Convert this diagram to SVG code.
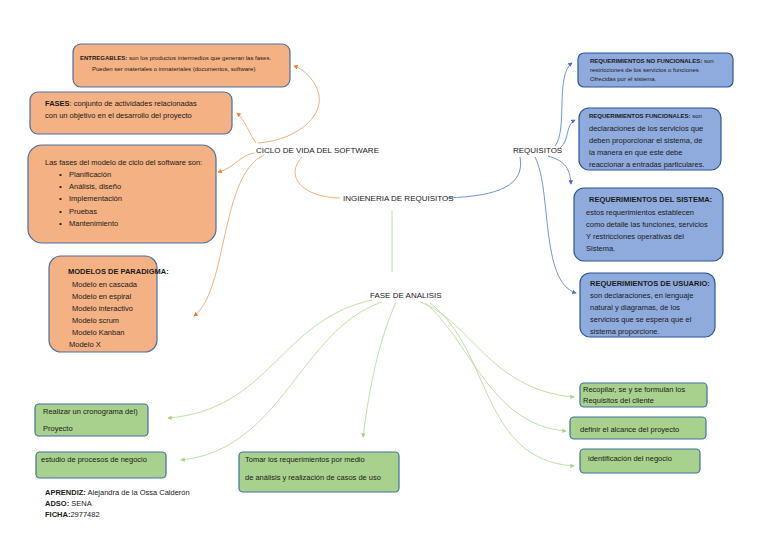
<svg xmlns="http://www.w3.org/2000/svg" width="768" height="543" viewBox="0 0 768 543">
<defs>
<style>
text{font-family:"Liberation Sans",Arial,sans-serif;fill:#1a1a1a;font-size:8px}
.o{fill:#F4B183;stroke:#4A6FA5;stroke-width:1.2}
.b{fill:#8FAADC;stroke:#2F5597;stroke-width:1.2}
.g{fill:#A9D18E;stroke:#41719C;stroke-width:1.2}
.s{font-size:6px}
.m{font-size:7.5px}
.lab{font-size:8px}
.co{fill:none;stroke:#F4A46C;stroke-width:0.9}
.cb{fill:none;stroke:#5B8BD6;stroke-width:0.9}
.cg{fill:none;stroke:#B8DC9C;stroke-width:0.9}
</style>
<marker id="ao" viewBox="0 0 6 6" refX="5" refY="3" markerWidth="5" markerHeight="5" orient="auto"><path d="M0,0L6,3L0,6z" fill="#ED7D31"/></marker>
<marker id="ab" viewBox="0 0 6 6" refX="5" refY="3" markerWidth="5" markerHeight="5" orient="auto"><path d="M0,0L6,3L0,6z" fill="#4472C4"/></marker>
<marker id="ag" viewBox="0 0 6 6" refX="5" refY="3" markerWidth="5" markerHeight="5" orient="auto"><path d="M0,0L6,3L0,6z" fill="#A9D18E"/></marker>
</defs>
<rect width="768" height="543" fill="#fff"/>
<g id="connectors">
<path class="co" d="M258,143 C300,140 335,110 312,80 C306,72 300,68 294,66" marker-end="url(#ao)"/>
<path class="co" d="M256,143 C250,135 245,120 237,113" marker-end="url(#ao)"/>
<path class="co" d="M254,153 C240,155 235,168 218,172" marker-end="url(#ao)"/>
<path class="co" d="M264,155 C220,175 228,290 194,316" marker-end="url(#ao)"/>
<path class="co" d="M302,157 C285,175 300,197 340,198"/>
<path class="cb" d="M447,198 C500,196 525,185 520,157"/>
<path class="cb" d="M555,146 C568,130 555,75 572,63" marker-end="url(#ab)"/>
<path class="cb" d="M560,148 C570,140 565,125 575,120" marker-end="url(#ab)"/>
<path class="cb" d="M548,156 C562,160 570,166 571,184" marker-end="url(#ab)"/>
<path class="cb" d="M535,157 C552,190 540,282 576,293" marker-end="url(#ab)"/>
<path class="cg" d="M392,210 L392,272" stroke-width="1.5"/>
<path class="cg" d="M372,300 C280,320 270,410 168,418" marker-end="url(#ag)"/>
<path class="cg" d="M382,302 C300,330 282,450 181,460" marker-end="url(#ag)"/>
<path class="cg" d="M396,302 C375,350 368,400 363,437" marker-end="url(#ag)"/>
<path class="cg" d="M420,302 C470,320 490,390 574,397" marker-end="url(#ag)"/>
<path class="cg" d="M425,303 C470,340 490,425 566,431" marker-end="url(#ag)"/>
<path class="cg" d="M430,303 C492,350 480,460 574,466" marker-end="url(#ag)"/>
</g>
<g id="ciclo"><text x="256" y="153" class="lab">CICLO DE VIDA DEL SOFTWARE</text></g>
<g id="requisitos"><text x="513" y="153" class="lab">REQUISITOS</text></g>
<g id="ingenieria"><text x="343" y="201" class="lab">INGIENERIA DE REQUISITOS</text></g>
<g id="fase"><text x="370" y="298" class="lab">FASE DE ANALISIS</text></g>
<g id="entregables"><rect class="o" x="73" y="44" width="217" height="43" rx="8"/>
<text x="80" y="60" class="s"><tspan font-weight="bold">ENTREGABLES:</tspan> son los productos intermedios que generan las fases.</text>
<text x="92" y="71" class="s">Pueden ser materiales o inmateriales (documentos, software)</text></g>
<g id="fases"><rect class="o" x="30" y="92" width="202" height="42" rx="8"/>
<text x="45" y="106" class="m"><tspan font-weight="bold">FASES</tspan>: conjunto de actividades relacionadas</text>
<text x="45" y="118" class="m">con un objetivo en el desarrollo del proyecto</text></g>
<g id="lasfases"><rect class="o" x="28" y="145" width="188" height="98" rx="14"/>
<text x="45" y="165" class="m">Las fases del modelo de ciclo del software son:</text>
<g class="m"><text x="59" y="177">•</text><text x="59" y="189">•</text><text x="59" y="201">•</text><text x="59" y="214">•</text><text x="59" y="226">•</text></g>
<text x="69" y="177" class="m">Planificación</text><text x="69" y="189" class="m">Análisis, diseño</text><text x="69" y="201" class="m">Implementación</text><text x="69" y="214" class="m">Pruebas</text><text x="69" y="226" class="m">Mantenimiento</text></g>
<g id="modelos"><rect class="o" x="49" y="256" width="108" height="96" rx="12"/>
<text x="68" y="274" class="m" font-weight="bold">MODELOS DE PARADIGMA:</text>
<text x="72" y="287" class="m">Modelo en cascada</text><text x="72" y="299" class="m">Modelo en espiral</text><text x="72" y="311" class="m">Modelo interactivo</text><text x="72" y="323" class="m">Modelo scrum</text><text x="72" y="335" class="m">Modelo Kanban</text><text x="69" y="347" class="m">Modelo X</text></g>
<g id="nofuncionales"><rect class="b" x="578" y="53" width="155" height="34" rx="6"/>
<text x="590" y="63" class="s"><tspan font-weight="bold">REQUERIMIENTOS NO FUNCIONALES:</tspan> son</text>
<text x="590" y="72" class="s">restricciones de los servicios o funciones</text>
<text x="590" y="81" class="s">Ofrecidas por el sistema.</text></g>
<g id="funcionales"><rect class="b" x="579" y="108" width="142" height="62" rx="10"/>
<text x="589" y="118" class="s" font-weight="bold">REQUERIMIENTOS FUNCIONALES: <tspan font-weight="normal">son</tspan></text>
<text x="589" y="131" class="m">declaraciones de los servicios que</text>
<text x="589" y="143" class="m">deben proporcionar el sistema, de</text>
<text x="589" y="155" class="m">la manera en que este debe</text>
<text x="589" y="167" class="m">reaccionar a entradas particulares.</text></g>
<g id="sistema"><rect class="b" x="574" y="188" width="149" height="73" rx="10"/>
<text x="589" y="202" class="m" font-weight="bold">REQUERIMIENTOS DEL SISTEMA:</text>
<text x="586" y="215" class="m">estos requerimientos establecen</text>
<text x="586" y="227" class="m">como detalle las funciones, servicios</text>
<text x="586" y="239" class="m">Y restricciones operativas del</text>
<text x="586" y="251" class="m">Sistema.</text></g>
<g id="usuario"><rect class="b" x="580" y="273" width="135" height="64" rx="10"/>
<text x="590" y="286" class="m" font-weight="bold">REQUERIMIENTOS DE USUARIO:</text>
<text x="590" y="298" class="m">son declaraciones, en lenguaje</text>
<text x="590" y="310" class="m">natural y diagramas, de los</text>
<text x="590" y="322" class="m">servicios que se espera que el</text>
<text x="590" y="334" class="m">sistema proporcione.</text></g>
<g id="cronograma"><rect class="g" x="35" y="404" width="113" height="32" rx="4"/>
<text x="43" y="414" class="m">Realizar un cronograma del)</text>
<text x="43" y="431" class="m">Proyecto</text></g>
<g id="estudio"><rect class="g" x="36" y="452" width="130" height="26" rx="4"/>
<text x="41" y="462" class="m">estudio de procesos de negocio</text></g>
<g id="tomar"><rect class="g" x="239" y="452" width="160" height="40" rx="4"/>
<text x="245" y="462" class="m">Tomar los requerimientos por medio</text>
<text x="245" y="480" class="m">de análisis y realización de casos de uso</text></g>
<g id="recopilar"><rect class="g" x="580" y="383" width="127" height="24" rx="4"/>
<text x="583" y="392" class="m">Recopilar, se y se formulan los</text>
<text x="583" y="403" class="m">Requisitos del cliente</text></g>
<g id="definir"><rect class="g" x="570" y="417" width="136" height="22" rx="4"/>
<text x="580" y="432" class="m">definir el alcance del proyecto</text></g>
<g id="identificacion"><rect class="g" x="580" y="449" width="120" height="24" rx="4"/>
<text x="588" y="461" class="m">identificación del negocio</text></g>
<g id="footer">
<text x="45" y="495" class="m"><tspan font-weight="bold">APRENDIZ:</tspan> Alejandra de la Ossa Calderón</text>
<text x="45" y="506" class="m"><tspan font-weight="bold">ADSO:</tspan> SENA</text>
<text x="45" y="517" class="m"><tspan font-weight="bold">FICHA:</tspan>2977482</text>
</g>
</svg>
